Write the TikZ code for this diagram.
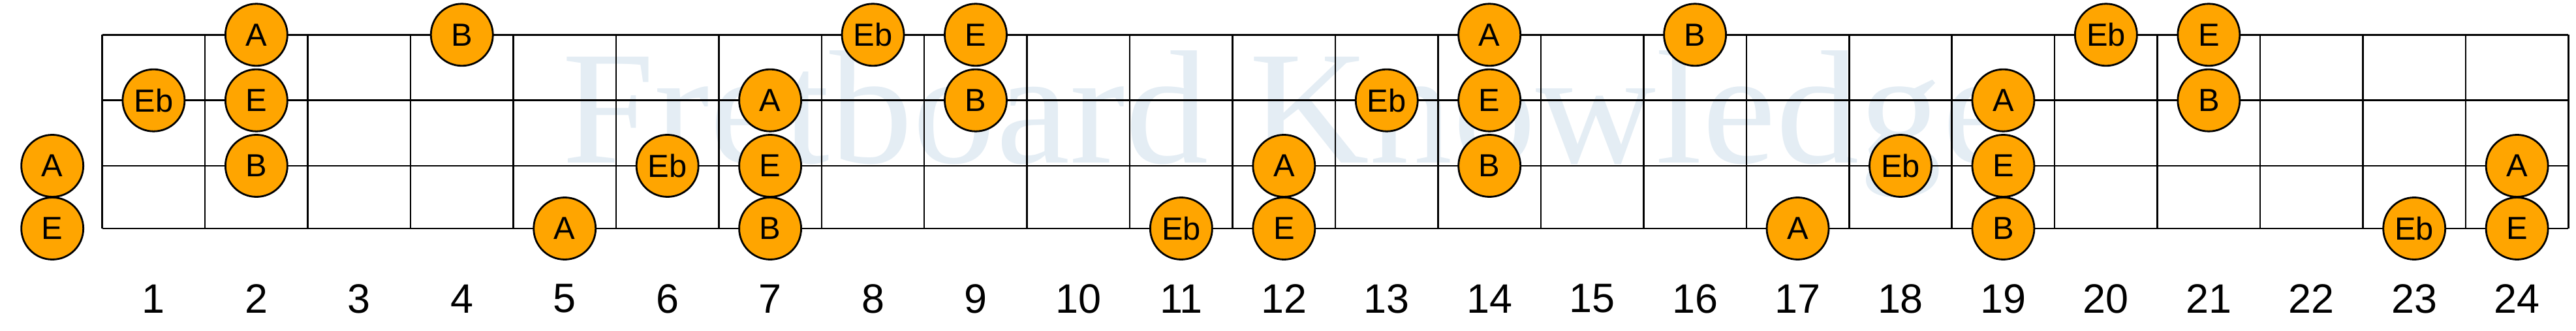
\documentclass[tikz,border=0pt]{standalone}
\usepackage{fontspec}
\setmainfont{Liberation Sans}
\newfontfamily\markfont{Liberation Serif}
\definecolor{noteorange}{HTML}{FFA500}
\definecolor{markblue}{HTML}{E4EDF4}
\tikzset{
    note/.style={circle, draw=black, line width=0.8pt, fill=noteorange,
        minimum size=0.95cm, inner sep=0pt, font=\fontsize{13.9}{14}\selectfont},
    fretnum/.style={font=\fontsize{17.9}{18}\selectfont},
    fretline/.style={line width=0.7pt}
}
\begin{document}
\begin{tikzpicture}[x=1.5744cm, y=1cm]
    % Page size
    \useasboundingbox (-0.9953,0.533) rectangle (24.074,-4.527);

    % Watermark
    \node[markblue, anchor=base west, inner sep=0pt, xscale=1.028,
        font=\markfont\fontsize{70.5}{70}\selectfont] (mark) at (4.47,-1.967) {Fretboard Knowledge};

    % Strings
    \foreach \y in {0,-1.004,-2.007,-2.967}
        \draw[fretline] (0,\y) -- (24,\y);

    % Frets
    \foreach \f in {0,...,24}
        \draw[fretline] (\f,0) -- (\f,-2.967);

    % Open strings
    \node[note] (open3) at (-0.486,-2.007) {A};
    \node[note] (open4) at (-0.486,-2.967) {E};

    % Fretted notes, string by string
    \foreach \s/\y/\notes in {
        1/0/{2/A,4/B,8/Eb,9/E,14/A,16/B,20/Eb,21/E},
        2/-1.004/{1/Eb,2/E,7/A,9/B,13/Eb,14/E,19/A,21/B},
        3/-2.007/{2/B,6/Eb,7/E,12/A,14/B,18/Eb,19/E,24/A},
        4/-2.967/{5/A,7/B,11/Eb,12/E,17/A,19/B,23/Eb,24/E}}
        \foreach \f/\n in \notes
            \node[note] (note\s-\f) at (\f-0.5,\y) {\n};

    % Fret numbers
    \foreach \f in {1,...,24}
        \node[fretnum] (num\f) at (\f-0.5,-4.042) {\f};
\end{tikzpicture}
\end{document}
